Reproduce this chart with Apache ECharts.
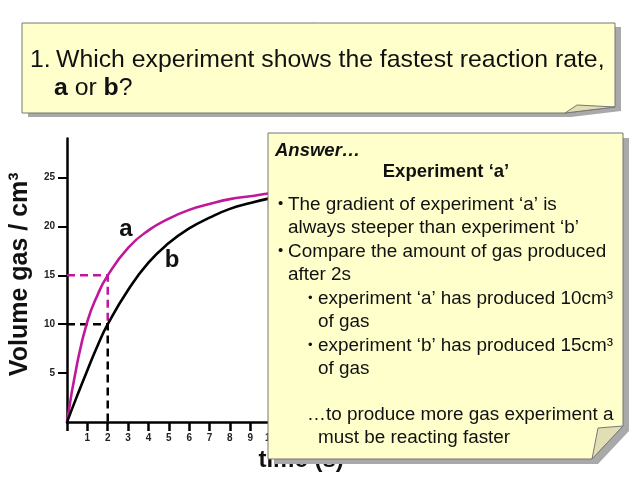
<!DOCTYPE html>
<html><head><meta charset="utf-8">
<script src="https://cdn.jsdelivr.net/npm/echarts@6/dist/echarts.min.js"></script>
<style>html,body{margin:0;padding:0;background:#fff}#c{width:638px;height:478px}</style>
</head><body><div id="c"></div>
<script>
// ---- data ----
const timeS    = [0, 0.5, 1, 1.5, 2, 3, 4, 5, 6, 7, 8, 9, 10, 11, 12];
const volumeA  = [0, 6.0, 10.3, 13.0, 15, 17.8, 19.6, 20.8, 21.7, 22.3, 22.8, 23.1, 23.4, 23.6, 23.8];
const volumeB  = [0, 2.7, 5.3, 7.8, 10, 13.5, 16.3, 18.3, 19.8, 20.9, 21.8, 22.4, 22.9, 23.3, 23.6];
const readTime = 2;
const readA = 15;
const readB = 10;
const yTickValues = [5, 10, 15, 20, 25];
const xTickValues = [1, 2, 3, 4, 5, 6, 7, 8, 9, 10, 11, 12, 13, 14, 15];
const yMax = 29;
const xMax = 23;

const MAG = '#C0189A';
const FONT = '"Liberation Sans", Arial, sans-serif';

const seriesA = timeS.map((t, i) => [t, volumeA[i]]);
const seriesB = timeS.map((t, i) => [t, volumeB[i]]);

const chart = echarts.init(document.getElementById('c'), null, {renderer: 'canvas'});

function txt(text, x, y, size, opts) {
  opts = opts || {};
  return {
    type: 'text', z: 110,
    style: {
      text: text, x: x, y: y,
      font: (opts.style || '') + ' ' + (opts.weight || 'normal') + ' ' + size + 'px ' + FONT,
      fill: opts.fill || '#111',
      align: opts.align || 'left',
      verticalAlign: 'middle',
      rich: opts.rich
    }
  };
}

const option = {
  animation: false,
  backgroundColor: '#fff',
  grid: {left: 66, top: 138.5, width: 469.2, height: 283.5, containLabel: false},
  xAxis: {
    type: 'value', min: 0, max: xMax,
    name: 'time (s)', nameLocation: 'middle', nameGap: 26,
    nameTextStyle: {fontFamily: FONT, fontWeight: 'bold', fontSize: 24, color: '#111'},
    axisLine: {show: true, onZero: false, lineStyle: {color: '#000', width: 2.5}},
    axisTick: {show: true, length: 9, lineStyle: {color: '#000', width: 2.5}, customValues: [0].concat(xTickValues)},
    axisLabel: {fontFamily: FONT, fontWeight: 'bold', fontSize: 10, color: '#222', margin: 11, customValues: xTickValues},
    splitLine: {show: false}
  },
  yAxis: {
    type: 'value', min: 0, max: yMax,
    name: 'Volume gas / cm³', nameLocation: 'middle', nameRotate: 90, nameGap: 22,
    nameTextStyle: {fontFamily: FONT, fontWeight: 'bold', fontSize: 25, color: '#111', padding: [0, 0, 0, 12]},
    axisLine: {show: true, onZero: false, lineStyle: {color: '#000', width: 2.5}},
    axisTick: {show: true, length: 9, lineStyle: {color: '#000', width: 2}, customValues: yTickValues},
    axisLabel: {fontFamily: FONT, fontWeight: 'bold', fontSize: 10, color: '#222', margin: 12, customValues: yTickValues},
    splitLine: {show: false}
  },
  series: [
    {type: 'line', name: 'a', data: seriesA, smooth: 0.5, showSymbol: false,
     lineStyle: {color: MAG, width: 2.6}, z: 3},
    {type: 'line', name: 'b', data: seriesB, smooth: 0.5, showSymbol: false,
     lineStyle: {color: '#000', width: 2.6}, z: 3},
    {type: 'line', data: [[0, readA], [readTime, readA], [readTime, readB]], showSymbol: false,
     lineStyle: {color: MAG, width: 2.5, type: [8, 5]}, z: 2},
    {type: 'line', data: [[0, readB], [readTime, readB], [readTime, 0]], showSymbol: false,
     lineStyle: {color: '#000', width: 2.5, type: [8, 5]}, z: 2}
  ],
  graphic: {elements: [
    // curve labels
    txt('a', 126, 229, 24, {weight: 'bold', align: 'center'}),
    txt('b', 172, 260, 24, {weight: 'bold', align: 'center'}),
    // top question box
    {type: 'polygon', z: 100, shape: {points: [[28,27],[621,27],[621,111],[571,117],[28,117]]}, style: {fill: '#A9A9A9'}},
    {type: 'polygon', z: 101, shape: {points: [[22,23],[615,23],[615,107],[565,113],[22,113]]}, style: {fill: '#FFFFCC', stroke: '#777', lineWidth: 1}},
    {type: 'polygon', z: 102, shape: {points: [[565,113],[577,105],[615,107]]}, style: {fill: '#E2DEB4', stroke: '#777', lineWidth: 1}},
    txt('1.', 30, 60, 24.8),
    txt('Which experiment shows the fastest reaction rate,', 56, 60, 24.8),
    txt('{b|a} or {b|b}?', 54, 88, 24.8, {rich: {b: {fontWeight: 'bold', fontSize: 24.8, fontFamily: FONT, fill: '#111'}}}),
    // answer box
    {type: 'polygon', z: 100, shape: {points: [[274,138],[629,138],[629,431],[598,464],[274,464]]}, style: {fill: '#A9A9A9'}},
    {type: 'polygon', z: 101, shape: {points: [[268,133],[623,133],[623,426],[592,459],[268,459]]}, style: {fill: '#FFFFCC', stroke: '#777', lineWidth: 1}},
    {type: 'polygon', z: 102, shape: {points: [[598,428],[623,426],[592,459]]}, style: {fill: '#E2DEB4', stroke: '#777', lineWidth: 1}},
    txt('Answer…', 275, 151, 18.5, {weight: 'bold', style: 'italic'}),
    txt('Experiment ‘a’', 446, 172, 18.5, {weight: 'bold', align: 'center'}),
    txt('•', 278, 204, 15),
    txt('The gradient of experiment ‘a’ is', 288, 205, 18.9),
    txt('always steeper than experiment ‘b’', 288, 228, 18.9),
    txt('•', 278, 251, 15),
    txt('Compare the amount of gas produced', 288, 252, 18.9),
    txt('after 2s', 288, 275, 18.9),
    txt('•', 308, 298, 13),
    txt('experiment ‘a’ has produced 10cm³', 318, 299, 18.9),
    txt('of gas', 318, 322, 18.9),
    txt('•', 308, 345, 13),
    txt('experiment ‘b’ has produced 15cm³', 318, 346, 18.9),
    txt('of gas', 318, 369, 18.9),
    txt('…to produce more gas experiment a', 307, 415, 18.9),
    txt('must be reacting faster', 318, 438, 18.9)
  ]}
};
chart.setOption(option);
</script>
</body></html>
